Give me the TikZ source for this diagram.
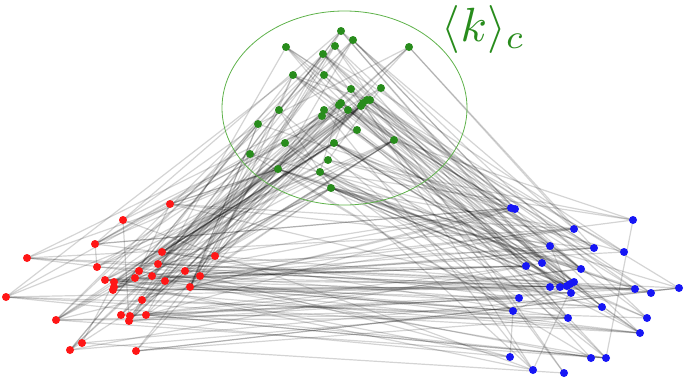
\documentclass[tikz,border=0pt]{standalone}
\usetikzlibrary{shapes.geometric}
\definecolor{kgreen}{RGB}{40,140,28}
\definecolor{kred}{RGB}{255,22,22}
\definecolor{kblue}{RGB}{22,22,245}
\definecolor{ellgreen}{RGB}{95,178,75}
\tikzset{
  dot/.style={circle,inner sep=0pt,minimum size=8pt},
  gdot/.style={dot,fill=kgreen},
  rdot/.style={dot,fill=kred},
  bdot/.style={dot,fill=kblue},
  edge/.style={draw=black,opacity=0.17,line width=1.2pt},
}
\begin{document}
\begin{tikzpicture}[x=1pt,y=-1pt]
\useasboundingbox (0,0) rectangle (685,380);
\foreach \n/\x/\y in {1/341/31,2/353/40,3/335/46,4/286/47,5/409/47,6/323/54,7/293/75,8/324/75,9/351/89,10/381/88,11/341/103,12/339/105,13/367/100,14/370/100,15/363/103,16/361/106,17/348/110,18/324/110,19/322/116,20/279/110,21/258/124,22/357/130,23/394/140,24/285/143,25/334/143,26/250/154,27/328/160,28/278/169,29/320/172,30/331/188}
  \coordinate (g\n) at (\x,\y);
\foreach \n/\x/\y in {1/170/204,2/123/220,3/95/244,4/27/258,5/162/252,6/215/256,7/158/264,8/97/267,9/139/271,10/185/271,11/135/278,12/152/276,13/200/276,14/165/281,15/105/280,16/114/282,17/114/287,18/113/290,19/190/287,20/6/297,21/142/300,22/56/320,23/121/315,24/130/316,25/129/321,26/146/315,27/82/343,28/70/350,29/136/351}
  \coordinate (r\n) at (\x,\y);
\foreach \n/\x/\y in {1/511/208,2/515/209,3/633/220,4/574/229,5/550/246,6/594/248,7/624/252,8/526/266,9/542/263,10/581/269,11/550/287,12/560/287,13/567/286,14/570/284,15/574/282,16/571/293,17/635/289,18/651/293,19/679/288,20/519/298,21/513/311,22/602/307,23/568/318,24/647/318,25/640/333,26/510/357,27/591/358,28/606/358,29/533/370,30/564/373}
  \coordinate (b\n) at (\x,\y);
\pgfmathsetseed{4242}
\foreach \k in {1,...,90}{
  \pgfmathtruncatemacro\a{random(1,30)}
  \pgfmathtruncatemacro\b{random(1,29)}
  \draw[edge] (g\a) -- (r\b);
}
\foreach \k in {1,...,90}{
  \pgfmathtruncatemacro\a{random(1,30)}
  \pgfmathtruncatemacro\b{random(1,30)}
  \draw[edge] (g\a) -- (b\b);
}
\foreach \k in {1,...,80}{
  \pgfmathtruncatemacro\a{random(1,29)}
  \pgfmathtruncatemacro\b{random(1,30)}
  \draw[edge] (r\a) -- (b\b);
}
\foreach \k in {1,...,14}{
  \pgfmathtruncatemacro\a{random(1,30)}
  \pgfmathtruncatemacro\b{random(1,30)}
  \draw[edge] (g\a) -- (g\b);
}
\foreach \k in {1,...,6}{
  \pgfmathtruncatemacro\a{random(1,29)}
  \pgfmathtruncatemacro\b{random(1,29)}
  \draw[edge] (r\a) -- (r\b);
}
\foreach \k in {1,...,6}{
  \pgfmathtruncatemacro\a{random(1,30)}
  \pgfmathtruncatemacro\b{random(1,30)}
  \draw[edge] (b\a) -- (b\b);
}
\node[draw=ellgreen,line width=0.8pt,ellipse,minimum width=245pt,minimum height=194pt,inner sep=0pt] (comm) at (344.5,108) {};
\foreach \n in {1,...,30} \node[gdot] (gd\n) at (g\n) {};
\foreach \n in {1,...,29} \node[rdot] (rd\n) at (r\n) {};
\foreach \n in {1,...,30} \node[bdot] (bd\n) at (b\n) {};
\node[anchor=base west,text=kgreen,inner sep=0pt,scale=4.8] (lbl) at (441,41) {$\langle k\rangle_c$};
\end{tikzpicture}
\end{document}
